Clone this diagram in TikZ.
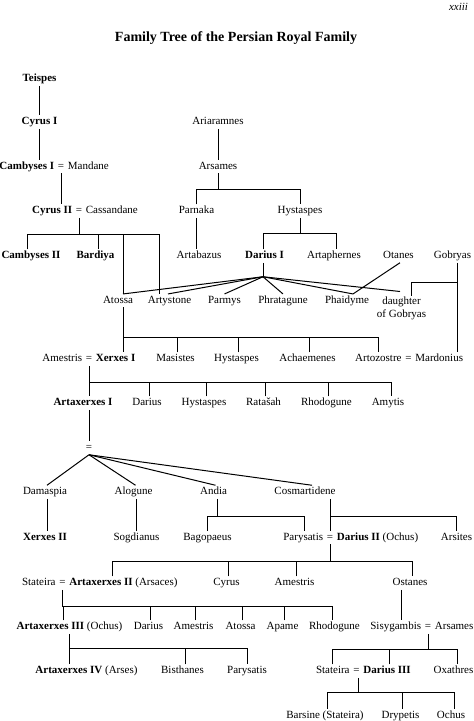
\documentclass[tikz,border=0pt]{standalone}
\usepackage{fontspec}
\setmainfont{Liberation Serif}
\usetikzlibrary{positioning}
\begin{document}
\begin{tikzpicture}[x=1pt, y=-1pt, line width=1pt, font=\fontsize{11}{13.3}\selectfont,
	pers/.style={inner xsep=1.4pt, inner ysep=1pt, text height=8pt, text depth=2.5pt},
	king/.style={pers, font=\fontsize{11}{13.3}\selectfont\bfseries},
	pers2/.style={inner sep=1pt, align=center}]
	\useasboundingbox (0,0) rectangle (474,721);
	\node[font=\fontsize{14}{16}\selectfont\bfseries] (title) at (236,38) {Family Tree of the Persian Royal Family};
	\node[font=\fontsize{11}{13}\selectfont\itshape] (page) at (458.5,7) {xxiii};
	% Teispids
	\node[king] (teispes) at (39.5,79) {Teispes};
	\node[king] (cyrusI) at (39.5,122) {Cyrus I};
	\node[pers] (cbeq) at (61,166.5) {=};
	\node[king, left=0pt of cbeq] (cambI) {Cambyses I};
	\node[pers, right=0pt of cbeq] (mandane) {Mandane};
	\node[pers] (cceq) at (79,211) {=};
	\node[king, left=0pt of cceq] (cyrusII) {Cyrus II};
	\node[pers, right=0pt of cceq] (cassand) {Cassandane};
	\node[king] (cambII) at (31,256) {Cambyses II};
	\node[king] (bardiya) at (95.5,256) {Bardiya};
	% Arsames line
	\node[pers] (ariar) at (218,122) {Ariaramnes};
	\node[pers] (arsames) at (218,166.5) {Arsames};
	\node[pers] (parnaka) at (196.5,211) {Parnaka};
	\node[pers] (hystI) at (300,211) {Hystaspes};
	\node[pers] (artabaz) at (199,256) {Artabazus};
	\node[king] (dariusI) at (264.5,256) {Darius I};
	\node[pers] (artaph) at (334,256) {Artaphernes};
	\node[pers] (otanes) at (398.5,256) {Otanes};
	\node[pers] (gobryas) at (452.5,256) {Gobryas};
	% wives of Darius I
	\node[pers] (atossa) at (118,300.7) {Atossa};
	\node[pers] (artyst) at (169.5,300.7) {Artystone};
	\node[pers] (parmys) at (224.5,300.7) {Parmys};
	\node[pers] (phrat) at (283,300.7) {Phratagune};
	\node[pers] (phaid) at (347,300.7) {Phaidyme};
	\node[pers2, anchor=north] (dgob) at (401.5,295.5) {daughter\\of Gobryas};
	% children of Darius I
	\node[pers] (axeq) at (89,359) {=};
	\node[pers, left=0pt of axeq] (amestrI) {Amestris};
	\node[king, right=0pt of axeq] (xerxesI) {Xerxes I};
	\node[pers] (masistes) at (175.5,359) {Masistes};
	\node[pers] (hystII) at (236.5,359) {Hystaspes};
	\node[pers] (achaem) at (307.5,359) {Achaemenes};
	\node[pers] (amreq) at (408.5,359) {=};
	\node[pers, left=0pt of amreq] (artoz) {Artozostre};
	\node[pers, right=0pt of amreq] (mardon) {Mardonius};
	% children of Xerxes I
	\node[king] (artxI) at (83,403) {Artaxerxes I};
	\node[pers] (dariusx) at (147,403) {Darius};
	\node[pers] (hystIII) at (204,403) {Hystaspes};
	\node[pers] (ratasah) at (263.5,403) {Ratašah};
	\node[pers] (rhodoI) at (326.5,403) {Rhodogune};
	\node[pers] (amytis) at (388,403) {Amytis};
	\node[pers] (marr) at (89,448) {=};
	% wives of Artaxerxes I
	\node[pers] (damaspia) at (45,492) {Damaspia};
	\node[pers] (alogune) at (133.5,492) {Alogune};
	\node[pers] (andia) at (213.5,492) {Andia};
	\node[pers] (cosmart) at (305,492) {Cosmartidene};
	\node[king] (xerxesII) at (45,537.5) {Xerxes II};
	\node[pers] (sogd) at (136.5,537.5) {Sogdianus};
	\node[pers] (bagop) at (207.5,537.5) {Bagopaeus};
	\node[pers] (pdeq) at (330,537.5) {=};
	\node[pers, left=0pt of pdeq] (parysI) {Parysatis};
	\node[pers, right=0pt of pdeq] (dariusII) {\textbf{Darius II} (Ochus)};
	\node[pers] (arsites) at (456.5,537.5) {Arsites};
	% children of Darius II
	\node[pers] (saeq) at (62.5,583) {=};
	\node[pers, left=0pt of saeq] (statI) {Stateira};
	\node[pers, right=0pt of saeq] (artxII) {\textbf{Artaxerxes II} (Arsaces)};
	\node[pers] (cyrusy) at (226.5,583) {Cyrus};
	\node[pers] (amestrII) at (294.5,583) {Amestris};
	\node[pers] (ostanes) at (410,583) {Ostanes};
	% children of Artaxerxes II
	\node[pers] (artxIII) at (69.5,627) {\textbf{Artaxerxes III} (Ochus)};
	\node[pers] (dariusa) at (148.5,627) {Darius};
	\node[pers] (amestrIII) at (193.5,627) {Amestris};
	\node[pers] (atossaII) at (240.5,627) {Atossa};
	\node[pers] (apame) at (282.5,627) {Apame};
	\node[pers] (rhodoII) at (334.5,627) {Rhodogune};
	\node[pers] (sgeq) at (428,627) {=};
	\node[pers, left=0pt of sgeq] (sisyg) {Sisygambis};
	\node[pers, right=0pt of sgeq] (arsamesII) {Arsames};
	% last generations
	\node[pers] (artxIV) at (86.5,671) {\textbf{Artaxerxes IV} (Arses)};
	\node[pers] (bisth) at (182.5,671) {Bisthanes};
	\node[pers] (parysII) at (247,671) {Parysatis};
	\node[pers] (sdeq) at (356.5,671) {=};
	\node[pers, left=0pt of sdeq] (statII) {Stateira};
	\node[king, right=0pt of sdeq] (dariusIII) {Darius III};
	\node[pers] (oxath) at (453.5,671) {Oxathres};
	\node[pers] (barsine) at (325,715.5) {Barsine (Stateira)};
	\node[pers] (drypetis) at (400.5,715.5) {Drypetis};
	\node[pers] (ochus) at (451,715.5) {Ochus};
	% connectors, top left
	\draw (teispes) -- (cyrusI);
	\draw (cyrusI.south) -- (cyrusI.south |- cambI.north);
	\draw (cbeq.south) -- (cbeq.south |- cyrusII.north);
	\draw (cceq.south) -- ++(0,17) coordinate (cb);
	\draw ([xshift=-4pt]cambII.north) |- (cb) -| ([xshift=-10.5pt]artyst.north);
	\draw ([xshift=2.5pt]bardiya.north) -- ([xshift=2.5pt]bardiya.north |- cb);
	\draw ([xshift=5pt]atossa.north) -- ([xshift=5pt]atossa.north |- cb);
	% Arsames and Darius I
	\draw (ariar) -- (arsames);
	\draw (arsames.south) -- ++(0,16.5) coordinate (ab);
	\draw (parnaka.north) |- (ab) -| (hystI.north);
	\draw (parnaka.south) -- (parnaka.south |- artabaz.north);
	\draw (hystI.south) -- ++(0,16) coordinate (hb);
	\draw ([xshift=-1.5pt]dariusI.north) |- (hb) -| ([xshift=2pt]artaph.north);
	\draw ([xshift=-1.5pt]dariusI.south) -- ++(0,14) coordinate (df);
	\draw (df) -- ([xshift=5pt]atossa.north);
	\draw (df) -- ([xshift=-1.5pt]artyst.north);
	\foreach \w in {parmys, phrat}
		\draw (df) -- (\w.north);
	\draw (df) -- ([xshift=6pt]phaid.north);
	\draw (df) -- ([xshift=-1.5pt, yshift=4pt]dgob.north);
	\draw ([xshift=1.5pt]otanes.south) -- ([xshift=6pt]phaid.north);
	\draw ([xshift=4.5pt]gobryas.south) -- ([xshift=4.5pt]gobryas.south |- mardon.north);
	\path ([xshift=4.5pt]gobryas.south) ++(0,20) coordinate (gb);
	\draw (gb) -| ([xshift=9.5pt]dgob.north);
	% Atossa and Xerxes I
	\draw ([xshift=5pt]atossa.south) -- ++(0,30) coordinate (tb);
	\draw (tb) -- (tb |- xerxesI.north);
	\draw (tb) -| (artoz.north);
	\foreach \w in {masistes, hystII, achaem}
		\draw ([xshift=1.5pt]\w.north) -- ([xshift=1.5pt]\w.north |- tb);
	\draw (axeq.south) -- ++(0,17) coordinate (xb);
	\draw (xb) -- (xb |- artxI.north);
	\draw (xb) -| ([xshift=3pt]amytis.north);
	\foreach \w in {dariusx, hystIII, ratasah, rhodoI}
		\draw ([xshift=2pt]\w.north) -- ([xshift=2pt]\w.north |- xb);
	\draw (xb |- artxI.south) -- (marr.north);
	% wives of Artaxerxes I
	\foreach \w in {damaspia, alogune, andia}
		\draw (marr.south) -- ([xshift=2pt]\w.north);
	\draw (marr.south) -- ([xshift=7pt]cosmart.north);
	\draw ([xshift=2pt]damaspia.south) -- ([xshift=2pt]damaspia.south |- xerxesII.north);
	\draw (alogune.south -| sogd) -- (sogd.north);
	\draw ([xshift=3.5pt]andia.south) -- ++(0,18) coordinate (nb);
	\draw (bagop.north) |- (nb) -| ([xshift=1pt]parysI.north);
	\draw (pdeq.north |- cosmart.south) -- (pdeq.north);
	\draw (pdeq.north |- nb) -| (arsites.north);
	% Darius II and after
	\draw (pdeq.south) -- ++(0,17) coordinate (db);
	\draw ([xshift=45pt]artxII.north west) |- (db) -| ([xshift=2pt]ostanes.north);
	\foreach \w in {cyrusy, amestrII}
		\draw ([xshift=1.5pt]\w.north) -- ([xshift=1.5pt]\w.north |- db);
	\draw (saeq.south) -- ++(0,17) coordinate (sb);
	\draw ([xshift=-6.5pt]artxIII.north) |- (sb) -| ([xshift=-2.5pt]rhodoII.north);
	\foreach \w in {dariusa, amestrIII, atossaII, apame}
		\draw ([xshift=2pt]\w.north) -- ([xshift=2pt]\w.north |- sb);
	\draw ([xshift=-9pt]ostanes.south) -- ([xshift=-9pt]ostanes.south |- sisyg.north);
	\draw (artxIII.south) -- ++(0,15) coordinate (tb3);
	\draw (tb3) -- (tb3 |- artxIV.north);
	\draw (tb3) -| (parysII.north);
	\draw ([xshift=2.5pt]bisth.north) -- ([xshift=2.5pt]bisth.north |- tb3);
	\draw (sgeq.south) -- ++(0,16) coordinate (gb2);
	\draw (statII.north) |- (gb2) -| ([xshift=4pt]oxath.north);
	\draw ([xshift=2pt]dariusIII.north) -- ([xshift=2pt]dariusIII.north |- gb2);
	\draw ([xshift=1.5pt]sdeq.south) -- ++(0,14.5) coordinate (d3b);
	\draw ([xshift=2pt]barsine.north) |- (d3b) -| ([xshift=3pt]ochus.north);
	\draw ([xshift=1.5pt]drypetis.north) -- ([xshift=1.5pt]drypetis.north |- d3b);
\end{tikzpicture}
\end{document}
